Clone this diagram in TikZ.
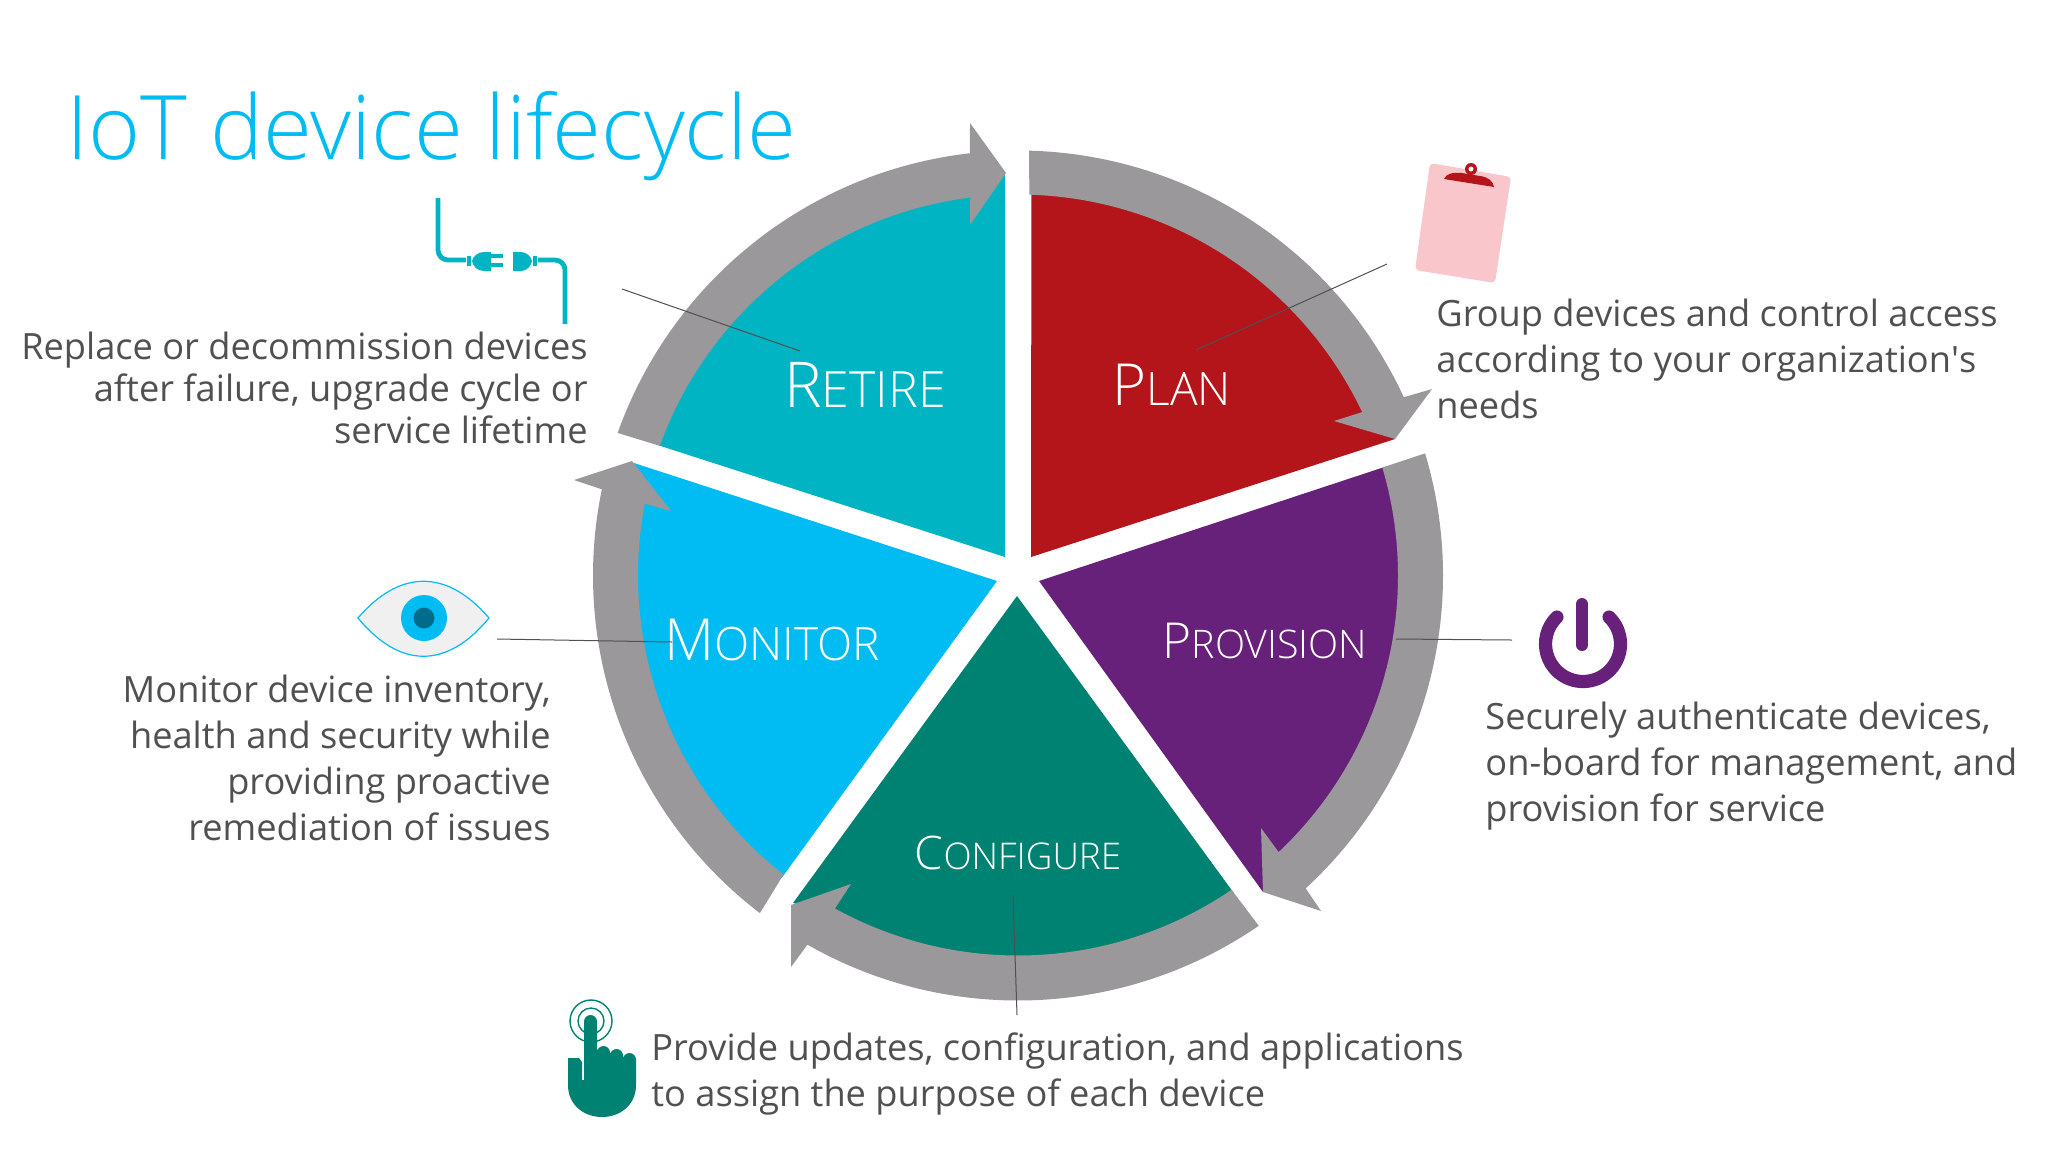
\documentclass[tikz,border=0pt]{standalone}
\usepackage{fontspec}
\usepackage{xcolor}
\setmainfont{Open Sans}
\newfontfamily\thinfont[UprightFont=* Light]{Open Sans}
\definecolor{retirecol}{HTML}{00B4C4}
\definecolor{plancol}{HTML}{B4151B}
\definecolor{provisioncol}{HTML}{68217A}
\definecolor{configcol}{HTML}{008272}
\definecolor{monitorcol}{HTML}{00BCF2}
\definecolor{bandcol}{HTML}{9A989A}
\definecolor{textcol}{HTML}{505050}
\definecolor{pinkcol}{HTML}{F9C6CC}
\definecolor{pupilcol}{HTML}{006C8C}
\newcommand{\phaselabel}[4]{{\fontsize{#3}{#3}\selectfont #1}{\fontsize{#4}{#4}\selectfont #2}}
\tikzset{
    band/.style={fill=bandcol},
    leader/.style={draw=textcol, line width=0.5pt},
    phase/.style={text=white, inner sep=0pt, anchor=base, font=\thinfont},
    blurb/.style={text=textcol, inner sep=0pt, font=\fontsize{18.1}{23}\selectfont},
    blurbsmall/.style={text=textcol, inner sep=0pt, font=\fontsize{18.1}{21}\selectfont},
    plugwire/.style={draw=retirecol, line width=2.4pt, rounded corners=5pt},
}
\begin{document}
\begin{tikzpicture}[x=0.5pt, y=-0.5pt]
    \useasboundingbox (0,0) rectangle (2048,1152);
    \coordinate (ctr) at (1018,575.5);

    % wedges
    \fill[retirecol] (1005,557) -- ([shift={(199.9:384)}]ctr) arc[start angle=199.9, end angle=262, radius=384] -- (1005,174) -- cycle;
    \fill[plancol] (1031,557) -- ([shift={(-88:384)}]ctr) arc[start angle=-88, end angle=-26, radius=384] -- (1395,439) -- cycle;
    \fill[provisioncol] (1039,581) -- ([shift={(-16.5:384)}]ctr) arc[start angle=-16.5, end angle=46, radius=384] -- (1263,892) -- cycle;
    \fill[configcol] (1017,596) -- ([shift={(55.8:384)}]ctr) arc[start angle=55.8, end angle=119, radius=384] -- (793,903) -- cycle;
    \fill[monitorcol] (997,581) -- ([shift={(128:384)}]ctr) arc[start angle=128, end angle=191, radius=384] -- (634,463) -- cycle;

    % arrows round the wedges
    \fill[band] ([shift={(-88.5:425)}]ctr) arc[start angle=-88.5, end angle=-24.8, radius=425] -- (1432,389) -- (1395,439) -- (1334,421) -- ([shift={(-25.4:381)}]ctr) arc[start angle=-25.4, end angle=-88.3, radius=381] -- cycle;
    \fill[band] ([shift={(-16.7:425)}]ctr) arc[start angle=-16.7, end angle=47.4, radius=425] -- (1321,911) -- (1263,892) -- (1261,828) -- ([shift={(46.7:380)}]ctr) arc[start angle=46.7, end angle=-16.5, radius=380] -- cycle;
    \fill[band] ([shift={(55.5:425)}]ctr) arc[start angle=55.5, end angle=119.7, radius=425] -- (791,967) -- (791,905) -- (851,884) -- ([shift={(118.8:380)}]ctr) arc[start angle=118.8, end angle=55.8, radius=380] -- cycle;
    \fill[band] ([shift={(127.4:425)}]ctr) arc[start angle=127.4, end angle=191.7, radius=425] -- (574,480) -- (632,461) -- (671,511) -- ([shift={(190.9:380)}]ctr) arc[start angle=190.9, end angle=128.1, radius=380] -- cycle;
    \fill[band] ([shift={(199.6:425)}]ctr) arc[start angle=199.6, end angle=263.5, radius=425] -- (970,123) -- (1006,173) -- (970,225) -- ([shift={(262.8:381)}]ctr) arc[start angle=262.8, end angle=199.9, radius=381] -- cycle;

    % phase names
    \node[phase] (retire) at (865,407) {\phaselabel{R}{ETIRE}{31.6}{25}};
    \node[phase] (plan) at (1172,405) {\phaselabel{P}{LAN}{29}{23}};
    \node[phase] (provision) at (1265,658) {\phaselabel{P}{ROVISION}{24.8}{19.7}};
    \node[phase] (monitor) at (772,660) {\phaselabel{M}{ONITOR}{29}{23}};
    \node[phase] (configure) at (1018,869) {\phaselabel{C}{ONFIGURE}{23.1}{18.4}};

    % leaders
    \coordinate (retirefoot) at (622,289);
    \coordinate (retirehead) at (800,351);
    \coordinate (planfoot) at (1387,264);
    \coordinate (planhead) at (1196,350);
    \coordinate (provisionfoot) at (1512,640);
    \coordinate (provisionhead) at (1396,639);
    \coordinate (monitorfoot) at (497,639);
    \coordinate (monitorhead) at (672,642);
    \coordinate (configfoot) at (1017,1015);
    \coordinate (confighead) at (1013,895);
    \draw[leader] (retirefoot) -- (retirehead);
    \draw[leader] (planfoot) -- (planhead);
    \draw[leader] (provisionfoot) -- (provisionhead);
    \draw[leader] (monitorfoot) -- (monitorhead);
    \draw[leader] (configfoot) -- (confighead);

    % title and texts
    \node[text=monitorcol, inner sep=0pt, anchor=base west, font=\thinfont\fontsize{44.5}{45}\selectfont] (title) at (66,159) {IoT device lifecycle};
    \node[blurbsmall, anchor=north east, align=right] (retiretext) at (588,332) {Replace or decommission devices\\after failure, upgrade cycle or\\service lifetime};
    \node[blurb, anchor=north west, align=left] (plantext) at (1436,299) {Group devices and control access\\according to your organization\textquotesingle s\\needs};
    \node[blurb, anchor=north east, align=right] (monitortext) at (551,675) {Monitor device inventory,\\health and security while\\providing proactive\\remediation of issues};
    \node[blurb, anchor=north west, align=left] (provisiontext) at (1485,702) {Securely authenticate devices,\\on-board for management, and\\provision for service};
    \node[blurb, anchor=north west, align=left] (configtext) at (651,1032) {Provide updates, configuration, and applications\\to assign the purpose of each device};

    % plug icon
    \draw[plugwire] (438,198) -- (438,260) -- (466,260);
    \draw[plugwire] (538,260) -- (565,260) -- (565,324);
    \fill[retirecol] (467,256) rectangle (471,266);
    \fill[retirecol] (491,252) -- (491,271) -- (484,271) .. controls (477,271) and (473,266) .. (472,261) .. controls (473,257) and (477,252) .. (484,252) -- cycle;
    \fill[retirecol] (491,254) rectangle (503,258);
    \fill[retirecol] (491,263) rectangle (503,267);
    \fill[retirecol] (513,252) -- (513,271) -- (521,271) .. controls (527,271) and (531,266) .. (532,261) .. controls (531,257) and (527,252) .. (521,252) -- cycle;
    \fill[retirecol] (533,256) rectangle (537,266);

    % clipboard icon
    \fill[pinkcol, rounded corners=2pt] (1430,163) -- (1511,177) -- (1495,283) -- (1415,270) -- cycle;
    \fill[plancol] (1444,179) .. controls (1446,174) and (1452,172) .. (1462,173) -- (1480,176) .. controls (1488,177) and (1493,181) .. (1494,187) -- cycle;
    \fill[plancol] (1471,169) circle[radius=6];
    \fill[white] (1471,169) circle[radius=2.5];

    % eye icon
    \draw[draw=monitorcol, fill=black!6, line width=0.6pt] (358,618) .. controls (400,569) and (447,569) .. (489,618) .. controls (447,669) and (400,669) .. (358,618) -- cycle;
    \fill[monitorcol] (424,618) circle[radius=23];
    \fill[pupilcol] (424,618) circle[radius=10.5];

    % power icon
    \draw[draw=provisioncol, line width=6.6pt, line cap=round] ([shift={(-46:37.5)}]1583,644) arc[start angle=-46, end angle=226, radius=37.5];
    \draw[draw=provisioncol, line width=6pt, line cap=round] (1582,604) -- (1582,645);

    % hand icon
    \draw[draw=configcol, line width=0.7pt] (591,1021) circle[radius=21];
    \draw[draw=configcol, line width=0.7pt] (591,1021) circle[radius=13];
    \fill[configcol] (568,1058) -- (579,1058) -- (582,1062) -- (582,1080) -- (584,1080) -- (584,1021.5) arc[start angle=180, end angle=360, radius=6.5] -- (597,1052.5) arc[start angle=180, end angle=360, radius=6.5] -- (610,1055.5) arc[start angle=180, end angle=360, radius=6.5] -- (623,1059.5) arc[start angle=180, end angle=360, radius=6.5] -- (636,1085) .. controls (636,1105) and (620,1117) .. (602,1117) .. controls (584,1117) and (568,1105) .. (568,1085) -- cycle;
\end{tikzpicture}
\end{document}
